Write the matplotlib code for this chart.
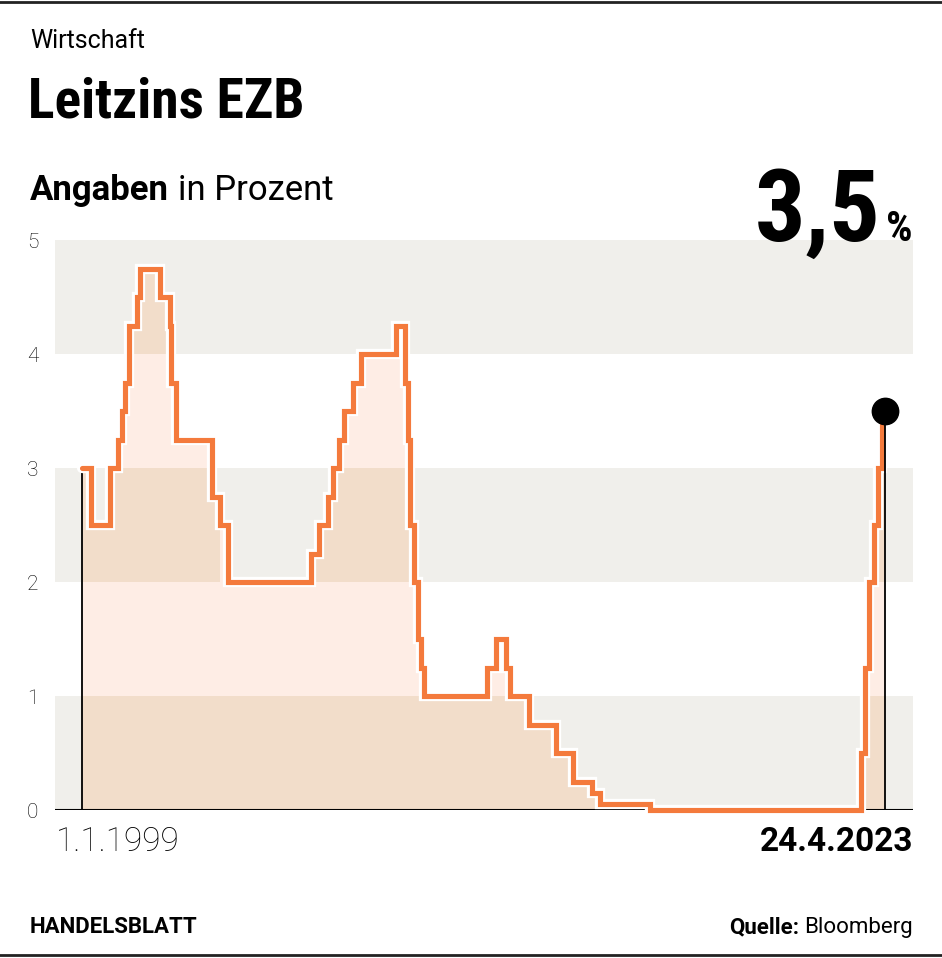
import datetime as dt
import matplotlib
matplotlib.use("Agg")
import matplotlib.pyplot as plt
import matplotlib.patheffects as pe
from matplotlib import font_manager
import numpy as np

# ECB main refinancing rate, date of change -> new rate (in %)
change_dates = [
    "1999-01-01", "1999-04-09", "1999-11-05", "2000-02-04", "2000-03-17",
    "2000-04-28", "2000-06-09", "2000-09-06", "2000-10-11", "2001-05-11",
    "2001-08-31", "2001-09-18", "2001-11-09", "2002-12-06", "2003-03-07",
    "2003-06-06", "2005-12-06", "2006-03-08", "2006-06-15", "2006-08-09",
    "2006-10-11", "2006-12-13", "2007-03-14", "2007-06-13", "2008-07-09",
    "2008-10-15", "2008-11-12", "2008-12-10", "2009-01-21", "2009-03-11",
    "2009-04-08", "2009-05-13", "2011-04-13", "2011-07-13", "2011-11-09",
    "2011-12-14", "2012-07-11", "2013-05-08", "2013-11-13", "2014-06-11",
    "2014-09-10", "2016-03-16", "2022-07-27", "2022-09-14", "2022-11-02",
    "2022-12-21", "2023-02-08", "2023-03-22", "2023-04-24",
]
rates = [
    3.00, 2.50, 3.00, 3.25, 3.50,
    3.75, 4.25, 4.50, 4.75, 4.50,
    4.25, 3.75, 3.25, 2.75, 2.50,
    2.00, 2.25, 2.50, 2.75, 3.00,
    3.25, 3.50, 3.75, 4.00, 4.25,
    3.75, 3.25, 2.50, 2.00, 1.50,
    1.25, 1.00, 1.25, 1.50, 1.25,
    1.00, 0.75, 0.50, 0.25, 0.15,
    0.05, 0.00, 0.50, 1.25, 2.00,
    2.50, 3.00, 3.50, 3.50,
]
y_ticks = [0, 1, 2, 3, 4, 5]
grey_bands = [(0, 1), (2, 3), (4, 5)]
start_label = "1.1.1999"
end_label = "24.4.2023"
latest_value = "3,5"


def condensed_bold():
    # narrowest bold face we can find, else plain bold
    prefs = ["Liberation Sans Narrow", "Roboto Condensed", "Open Sans Condensed",
             "DejaVu Sans"]
    fonts = font_manager.fontManager.ttflist
    for name in prefs:
        for f in fonts:
            if f.name == name and f.weight in ("bold", 700) and \
                    ("Condensed" in f.fname or "Narrow" in f.fname):
                return font_manager.FontProperties(fname=f.fname)
    for f in fonts:
        if ("Condensed" in f.fname or "Narrow" in f.fname) and "Bold" in f.fname \
                and "Oblique" not in f.fname and "Italic" not in f.fname:
            return font_manager.FontProperties(fname=f.fname)
    return font_manager.FontProperties(family="DejaVu Sans", weight="bold")


body = "Roboto"
ORANGE = "#f47a3c"
GREY = "#f0efeb"
PEACH = "#feede5"
TAN = "#f2ddca"

x = np.array([dt.datetime.strptime(d, "%Y-%m-%d") for d in change_dates])
y = np.array(rates)

W, H = 942, 958
fig = plt.figure(figsize=(W / 100, H / 100), dpi=100)
renderer = fig.canvas.get_renderer()


def fx(px):
    return px / W


def fy(py):
    return 1 - py / H


def width_px(t):
    return t.get_window_extent(renderer).width


ax = fig.add_axes([fx(55), fy(810), fx(913) - fx(55), fy(240) - fy(810)])
ax.set_ylim(0, 5)
ax.set_xlim(x[0] - dt.timedelta(days=295), x[-1] + dt.timedelta(days=309))

for lo, hi in grey_bands:
    ax.axhspan(lo, hi, color=GREY, lw=0, zorder=0)

# area under the step line, darker where it sits on a grey band
ax.fill_between(x, 0, y, step="post", color=PEACH, lw=0, zorder=1)
for lo, hi in grey_bands:
    ax.fill_between(x, lo, np.clip(y, lo, hi), where=y > lo, step="post",
                    color=TAN, lw=0, zorder=1)

ax.axhline(0, color="black", lw=1.5, zorder=2)
ax.plot([x[0], x[0]], [0, y[0]], color="black", lw=1.3, zorder=2)

ax.step(x, y, where="post", color=ORANGE, lw=3.7, zorder=3, clip_on=False,
        solid_joinstyle="miter", solid_capstyle="round",
        path_effects=[pe.Stroke(linewidth=7.4, foreground="white"), pe.Normal()])

ax.plot([x[-1], x[-1]], [0, y[-1]], color="black", lw=1.3, zorder=4)
ax.plot([x[-1]], [y[-1]], "o", color="black", ms=19, zorder=5, clip_on=False)

ax.set_yticks(y_ticks)
ax.set_yticklabels([str(t) for t in y_ticks], fontsize=15, family=body,
                   fontweight="light", color="black")
ax.tick_params(axis="y", length=0, pad=12)
ax.set_xticks([])
for s in ax.spines.values():
    s.set_visible(False)
ax.set_facecolor("none")

cond = condensed_bold()

# header
fig.add_artist(plt.Line2D([0, 1], [fy(2), fy(2)], color="#222222", lw=2))
fig.add_artist(plt.Line2D([0, 1], [fy(955), fy(955)], color="#222222", lw=2))
fig.text(fx(30), fy(48), "Wirtschaft", fontsize=18, family=body,
         va="baseline")
fig.text(fx(28), fy(118), "Leitzins EZB", fontproperties=cond,
         fontsize=40, va="baseline")
ang = fig.text(fx(30), fy(200), "Angaben", fontsize=25, family=body,
               fontweight="bold", va="baseline")
fig.text(fx(30 + width_px(ang) + 9), fy(200), "in Prozent", fontsize=25,
         family=body, va="baseline")

pct = fig.text(fx(913), fy(241), "%", fontproperties=cond, fontsize=30,
               va="baseline", ha="right")
fig.text(fx(913 - width_px(pct) - 6), fy(241), latest_value,
         fontproperties=cond, fontsize=72, va="baseline", ha="right")

# date labels under the axis
fig.text(fx(56), fy(851), start_label, fontsize=24, family=body,
         fontweight="light", va="baseline")
fig.text(fx(913), fy(851), end_label, fontsize=24, family=body,
         fontweight="bold", va="baseline", ha="right")

# footer
fig.text(fx(30), fy(933), "HANDELSBLATT", fontsize=16, family=body,
         fontweight="bold", va="baseline")
src = fig.text(fx(913), fy(933), "Bloomberg", fontsize=16, family=body,
               va="baseline", ha="right")
fig.text(fx(913 - width_px(src) - 5), fy(933), "Quelle:", fontsize=16,
         family=body, fontweight="bold", va="baseline", ha="right")

fig.savefig("out.png", dpi=100)
